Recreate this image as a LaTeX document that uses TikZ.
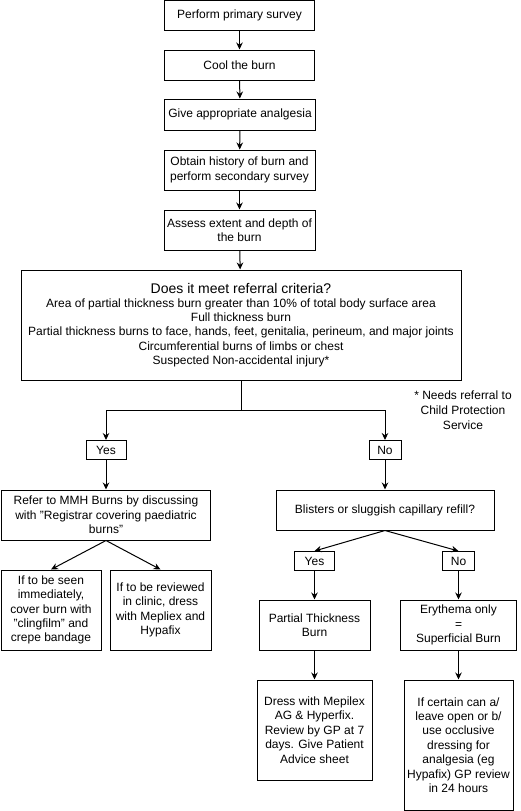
\documentclass[tikz,border=0pt]{standalone}
\usepackage{fontspec}
\setmainfont{Liberation Sans}
\usetikzlibrary{arrows.meta}
\tikzset{
    stp/.style={draw, line width=1pt, align=center, inner sep=1pt, font=\fontsize{12}{14.4}\selectfont},
    yn/.style={draw, line width=1pt, inner sep=0pt, minimum height=19pt, font=\fontsize{12}{14.4}\selectfont},
    note/.style={align=center, inner sep=0pt, font=\fontsize{12}{15}\selectfont},
    fc/.style={>={Stealth[length=7pt,width=6.5pt]}, line width=1pt}
}

\begin{document}
\begin{tikzpicture}[fc, x=1pt, y=-1pt]
        \useasboundingbox (0,0) rectangle (520,811);
        % main column
        \node[stp, minimum width=150pt, minimum height=30pt] (prim) at (239.5,15.5) {Perform primary survey};
        \node[stp, minimum width=150pt, minimum height=30pt] (cool) at (239.5,65) {Cool the burn};
        \node[stp, minimum width=151pt, minimum height=31pt] (anal) at (240,114.5) {Give appropriate analgesia};
        \node[stp, minimum width=151pt, minimum height=40pt] (hist) at (239.5,170) {Obtain history of burn and\\perform secondary survey};
        \node[stp, minimum width=151pt, minimum height=40pt] (asse) at (239.5,230) {Assess extent and depth of\\the burn};
        \node[stp, minimum width=440pt, minimum height=110pt, font=\fontsize{12}{14.2}\selectfont] (crit) at (241,325)
            {{\fontsize{14}{16}\selectfont Does it meet referral criteria?}\\
             Area of partial thickness burn greater than 10\% of total body surface area\\
             Full thickness burn\\
             Partial thickness burns to face, hands, feet, genitalia, perineum, and major joints\\
             Circumferential burns of limbs or chest\\
             Suspected Non-accidental injury*};
        \node[note] (fn) at (463,410) {* Needs referral to\\Child Protection\\Service};
        % yes branch
        \node[yn, minimum width=40pt] (y1) at (106,450) {Yes};
        \node[stp, minimum width=209pt, minimum height=50pt] (ref) at (106,515) {Refer to MMH Burns by discussing\\with "Registrar covering paediatric\\burns"};
        \node[stp, minimum width=100pt, minimum height=80pt] (seen) at (51,610) {If to be seen\\immediately,\\cover burn with\\"clingfilm" and\\crepe bandage};
        \node[stp, minimum width=101pt, minimum height=80pt] (clin) at (160.5,610) {If to be reviewed\\in clinic, dress\\with Mepliex and\\Hypafix};
        % no branch
        \node[yn, minimum width=32pt] (n1) at (385,450) {No};
        \node[stp, minimum width=218pt, minimum height=40pt] (blis) at (385,510) {Blisters or sluggish capillary refill?};
        \node[yn, minimum width=40pt] (y2) at (314.5,561) {Yes};
        \node[yn, minimum width=32pt] (n2) at (458.5,561) {No};
        \node[stp, minimum width=111pt, minimum height=50pt] (part) at (314.5,625) {Partial Thickness\\Burn};
        \node[stp, minimum width=116pt, minimum height=50pt] (ery) at (458.5,625) {Erythema only\\=\\Superficial Burn};
        \node[stp, minimum width=115pt, minimum height=100pt] (drs) at (314.5,730) {Dress with Mepilex\\AG \& Hyperfix.\\Review by GP at 7\\days. Give Patient\\Advice sheet};
        \node[stp, minimum width=109pt, minimum height=130pt] (leav) at (458.5,745) {If certain can a/\\leave open or b/\\use occlusive\\dressing for\\analgesia (eg\\Hypafix) GP review\\in 24 hours};

        \draw[->] (prim) -- (cool);
        \draw[->] (cool) -- (anal);
        \draw[->] (anal) -- (hist);
        \draw[->] (hist) -- (asse);
        \draw[->] (asse) -- (crit);
        \draw[->] (crit.south) -- ++(0,30) -| (y1.north);
        \draw[->] (crit.south) -- ++(0,30) -| (n1.north);
        \draw[->] (y1) -- (ref);
        \draw[->] (ref.south) -- (seen.north);
        \draw[->] (ref.south) -- (clin.north);
        \draw[->] (n1) -- (blis);
        \draw[->] (blis.south) -- (y2.north);
        \draw[->] (blis.south) -- (n2.north);
        \draw[->] (y2) -- (part);
        \draw[->] (n2) -- (ery);
        \draw[->] (part) -- (drs);
        \draw[->] (ery) -- (leav);
    \end{tikzpicture}
\end{document}
